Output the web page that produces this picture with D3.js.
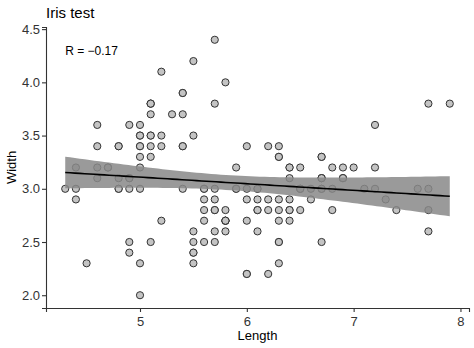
<!DOCTYPE html>
<html>
<head>
<meta charset="utf-8">
<script src="https://cdn.jsdelivr.net/npm/d3@7"></script>
<style>
  html, body { margin: 0; padding: 0; background: #fff; }
  svg { display: block; font-family: Arial, "Liberation Sans", sans-serif; }
</style>
</head>
<body>
<svg id="chart" width="474" height="348"></svg>
<script>
const sepalLength = [
  5.1,4.9,4.7,4.6,5.0,5.4,4.6,5.0,4.4,4.9,5.4,4.8,4.8,4.3,5.8,5.7,5.4,5.1,5.7,5.1,
  5.4,5.1,4.6,5.1,4.8,5.0,5.0,5.2,5.2,4.7,4.8,5.4,5.2,5.5,4.9,5.0,5.5,4.9,4.4,5.1,
  5.0,4.5,4.4,5.0,5.1,4.8,5.1,4.6,5.3,5.0,
  7.0,6.4,6.9,5.5,6.5,5.7,6.3,4.9,6.6,5.2,5.0,5.9,6.0,6.1,5.6,6.7,5.6,5.8,6.2,5.6,
  5.9,6.1,6.3,6.1,6.4,6.6,6.8,6.7,6.0,5.7,5.5,5.5,5.8,6.0,5.4,6.0,6.7,6.3,5.6,5.5,
  5.5,6.1,5.8,5.0,5.6,5.7,5.7,6.2,5.1,5.7,
  6.3,5.8,7.1,6.3,6.5,7.6,4.9,7.3,6.7,7.2,6.5,6.4,6.8,5.7,5.8,6.4,6.5,7.7,7.7,6.0,
  6.9,5.6,7.7,6.3,6.7,7.2,6.2,6.1,6.4,7.2,7.4,7.9,6.4,6.3,6.1,7.7,6.3,6.4,6.0,6.9,
  6.7,6.9,5.8,6.8,6.7,6.7,6.3,6.5,6.2,5.9
];
const sepalWidth = [
  3.5,3.0,3.2,3.1,3.6,3.9,3.4,3.4,2.9,3.1,3.7,3.4,3.0,3.0,4.0,4.4,3.9,3.5,3.8,3.8,
  3.4,3.7,3.6,3.3,3.4,3.0,3.4,3.5,3.4,3.2,3.1,3.4,4.1,4.2,3.1,3.2,3.5,3.6,3.0,3.4,
  3.5,2.3,3.2,3.5,3.8,3.0,3.8,3.2,3.7,3.3,
  3.2,3.2,3.1,2.3,2.8,2.8,3.3,2.4,2.9,2.7,2.0,3.0,2.2,2.9,2.9,3.1,3.0,2.7,2.2,2.5,
  3.2,2.8,2.5,2.8,2.9,3.0,2.8,3.0,2.9,2.6,2.4,2.4,2.7,2.7,3.0,3.4,3.1,2.3,3.0,2.5,
  2.6,3.0,2.6,2.3,2.7,3.0,2.9,2.9,2.5,2.8,
  3.3,2.7,3.0,2.9,3.0,3.0,2.5,2.9,2.5,3.6,3.2,2.7,3.0,2.5,2.8,3.2,3.0,3.8,2.6,2.2,
  3.2,2.8,2.8,2.7,3.3,3.2,2.8,3.0,2.8,3.0,2.8,3.8,2.8,2.8,2.6,3.0,3.4,3.1,3.0,3.1,
  3.1,3.1,2.7,3.2,3.3,3.0,2.5,3.0,3.4,3.0
];
const xTicks = [5, 6, 7, 8];
const yTicks = [2.0, 2.5, 3.0, 3.5, 4.0, 4.5];
const titleText = "Iris test";
const xLabel = "Length";
const yLabel = "Width";
const corLabel = "R = \u22120.17";

(function () {
const svg = d3.select("#chart");
const mLeft = 46, mRight = 469, mTop = 27, mBottom = 308;

const xExt = d3.extent(sepalLength), yExt = d3.extent(sepalWidth);
const xPad = (xExt[1] - xExt[0]) * 0.05, yPad = (yExt[1] - yExt[0]) * 0.05;
const x = d3.scaleLinear().domain([xExt[0] - xPad, xExt[1] + xPad]).range([mLeft, mRight]);
const y = d3.scaleLinear().domain([yExt[0] - yPad, yExt[1] + yPad]).range([mBottom, mTop]);

const pts = sepalLength.map((v, i) => ({x: v, y: sepalWidth[i]}));

// points
svg.append("g").selectAll("circle").data(pts).join("circle")
  .attr("cx", d => x(d.x)).attr("cy", d => y(d.y)).attr("r", 3.6)
  .attr("fill", "#c4c4c4").attr("stroke", "#333").attr("stroke-width", 1);

// linear fit with 95% CI
const n = pts.length;
const mx = d3.mean(sepalLength), my = d3.mean(sepalWidth);
const sxx = d3.sum(sepalLength, v => (v - mx) ** 2);
const sxy = d3.sum(pts, d => (d.x - mx) * (d.y - my));
const b = sxy / sxx, a = my - b * mx;
const sse = d3.sum(pts, d => (d.y - (a + b * d.x)) ** 2);
const s = Math.sqrt(sse / (n - 2));
const tq = 1.9761;
const fit = d3.range(80).map(i => {
  const xv = xExt[0] + (xExt[1] - xExt[0]) * i / 79;
  const yh = a + b * xv;
  const se = s * Math.sqrt(1 / n + (xv - mx) ** 2 / sxx);
  return {x: xv, y: yh, lo: yh - tq * se, hi: yh + tq * se};
});
svg.append("path").datum(fit)
  .attr("d", d3.area().x(d => x(d.x)).y0(d => y(d.lo)).y1(d => y(d.hi)))
  .attr("fill", "#888").attr("fill-opacity", 0.85);
svg.append("path").datum(fit)
  .attr("d", d3.line().x(d => x(d.x)).y(d => y(d.y)))
  .attr("fill", "none").attr("stroke", "#000").attr("stroke-width", 1.6);

// axes
const xAxis = svg.append("g").attr("transform", `translate(0,${mBottom})`)
  .call(d3.axisBottom(x).tickValues(xTicks).tickFormat(d3.format("d")).tickSizeOuter(0).tickSize(4));
const yAxis = svg.append("g").attr("transform", `translate(${mLeft},0)`)
  .call(d3.axisLeft(y).tickValues(yTicks).tickFormat(d3.format(".1f")).tickSizeOuter(0).tickSize(4));
[xAxis, yAxis].forEach(g => {
  g.select(".domain").attr("stroke", "#333").attr("stroke-width", 1.1);
  g.selectAll(".tick line").attr("stroke", "#333").attr("stroke-width", 1.1);
  g.selectAll(".tick text").attr("fill", "#333").style("font-size", "13px")
    .style("font-family", "Arial, 'Liberation Sans', sans-serif");
});
xAxis.selectAll(".tick text").attr("dy", "0.95em").attr("y", 6);
yAxis.selectAll(".tick text").attr("x", -6);

// labels
svg.append("text").attr("x", mLeft).attr("y", 18).text(titleText)
  .attr("fill", "#000").style("font-size", "15px");
svg.append("text").attr("x", (mLeft + mRight) / 2).attr("y", 340).attr("text-anchor", "middle")
  .text(xLabel).attr("fill", "#000").style("font-size", "13px");
svg.append("text").attr("transform", `translate(16,${(mTop + mBottom) / 2}) rotate(-90)`)
  .attr("text-anchor", "middle").text(yLabel).attr("fill", "#000").style("font-size", "13px");
svg.append("text").attr("x", x(xExt[0])).attr("y", 55).text(corLabel)
  .attr("fill", "#000").style("font-size", "12px");
})();
</script>
</body>
</html>
